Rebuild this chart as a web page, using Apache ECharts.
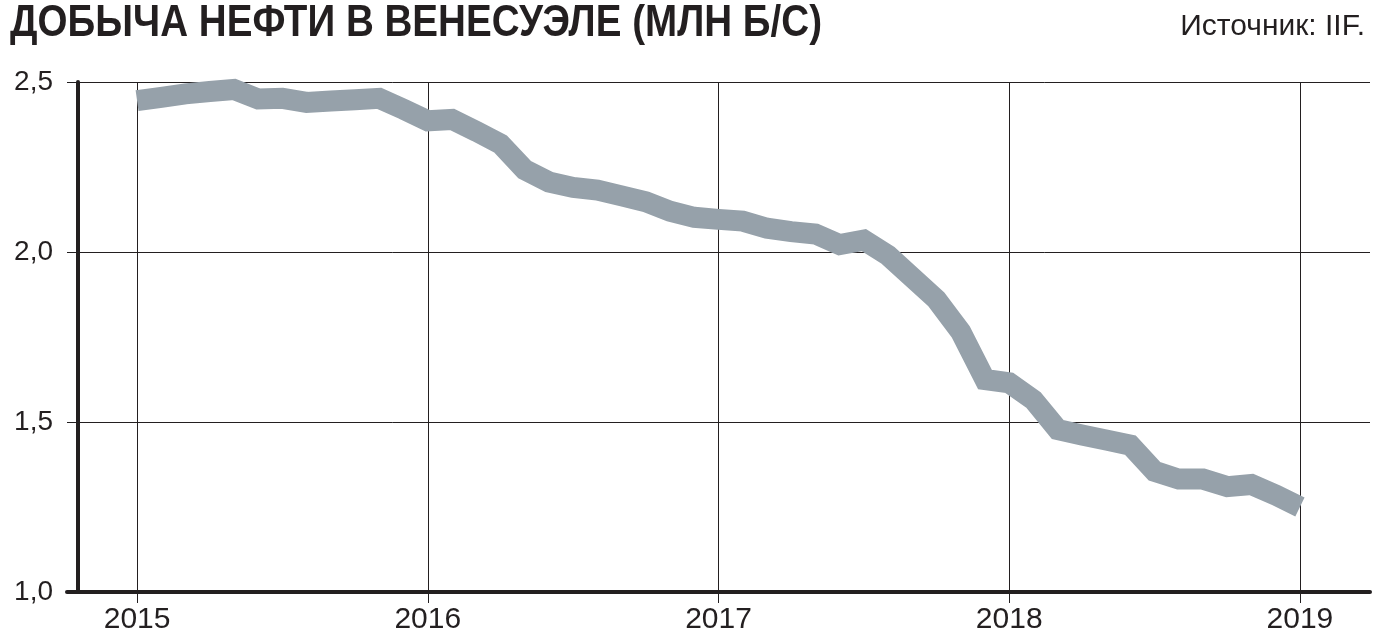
<!DOCTYPE html>
<html>
<head>
<meta charset="utf-8">
<script src="https://cdn.jsdelivr.net/npm/echarts@6/dist/echarts.min.js"></script>
<style>
html,body{margin:0;padding:0;background:#fff;}
#chart{width:1390px;height:643px;}
</style>
</head>
<body>
<div id="chart"></div>
<script>
// Monthly Venezuelan oil production, mln b/d
const months = [
  '2015-01','2015-02','2015-03','2015-04','2015-05','2015-06','2015-07','2015-08','2015-09','2015-10','2015-11','2015-12',
  '2016-01','2016-02','2016-03','2016-04','2016-05','2016-06','2016-07','2016-08','2016-09','2016-10','2016-11','2016-12',
  '2017-01','2017-02','2017-03','2017-04','2017-05','2017-06','2017-07','2017-08','2017-09','2017-10','2017-11','2017-12',
  '2018-01','2018-02','2018-03','2018-04','2018-05','2018-06','2018-07','2018-08','2018-09','2018-10','2018-11','2018-12',
  '2019-01'
];
const production = [
  2.445, 2.455, 2.465, 2.472, 2.478, 2.450, 2.452, 2.440, 2.444, 2.448, 2.452, 2.420,
  2.386, 2.390, 2.355, 2.318, 2.242, 2.206, 2.190, 2.182, 2.165, 2.148, 2.120, 2.102,
  2.096, 2.091, 2.070, 2.060, 2.053, 2.022, 2.035, 1.990, 1.925, 1.860, 1.765, 1.625,
  1.615, 1.565, 1.478, 1.462, 1.447, 1.432, 1.355, 1.332, 1.332, 1.310, 1.316, 1.285,
  1.250
];
const yearTicks = [2015, 2016, 2017, 2018, 2019];
const titleText = 'ДОБЫЧА НЕФТИ В ВЕНЕСУЭЛЕ (МЛН Б/С)';
const sourceText = 'Источник: IIF.';

function toYear(s) {
  const p = s.split('-');
  return Number(p[0]) + (Number(p[1]) - 1) / 12;
}
const seriesData = months.map((m, i) => [toYear(m), production[i]]);

// condensed title: scale a bold sans horizontally to the reference width
const titleFont = 'bold 45px "Liberation Sans", Arial, sans-serif';
const mctx = document.createElement('canvas').getContext('2d');
mctx.font = titleFont;
const titleW = mctx.measureText(titleText).width;
const titleScale = 812 / titleW;

const ink = '#231f20';
const chart = echarts.init(document.getElementById('chart'), null, {renderer: 'canvas'});
chart.setOption({
  animation: false,
  backgroundColor: '#ffffff',
  title: [
    {
      text: sourceText, right: 20, top: 7,
      textStyle: {fontFamily: 'Liberation Sans', fontWeight: 'normal', fontSize: 30, color: ink}
    }
  ],
  graphic: [{
    type: 'text',
    x: 10, y: 1,
    scaleX: titleScale, scaleY: 1,
    originX: 0, originY: 0,
    style: {
      text: titleText,
      font: titleFont,
      fill: ink,
      textAlign: 'left',
      textVerticalAlign: 'top'
    }
  }],
  grid: {left: 67, right: 20, top: 82, bottom: 51, containLabel: false},
  xAxis: {
    type: 'value',
    min: 2014.759,
    max: 2019.241,
    axisLine: {show: true, onZero: false, lineStyle: {color: ink, width: 4}},
    axisTick: {show: true, customValues: yearTicks, length: 11, lineStyle: {color: ink, width: 1}},
    axisLabel: {
      show: true, customValues: yearTicks, margin: 13,
      fontFamily: 'Liberation Sans', fontSize: 30, color: ink,
      formatter: v => String(Math.round(v))
    },
    splitLine: {show: true, lineStyle: {color: ink, width: 1}}
  },
  yAxis: {
    type: 'value',
    min: 1, max: 2.5, interval: 0.5,
    offset: -11,
    axisLine: {show: true, lineStyle: {color: ink, width: 4}},
    axisTick: {show: false},
    axisLabel: {
      margin: 25, fontFamily: 'Liberation Sans', fontSize: 28, color: ink,
      formatter: v => v.toFixed(1).replace('.', ',')
    },
    splitLine: {show: true, lineStyle: {color: ink, width: 1}}
  },
  series: [{
    type: 'line',
    data: seriesData,
    showSymbol: false,
    symbol: 'none',
    lineStyle: {color: '#96a1aa', width: 21, cap: 'butt', join: 'miter'}
  }]
});
</script>
</body>
</html>
